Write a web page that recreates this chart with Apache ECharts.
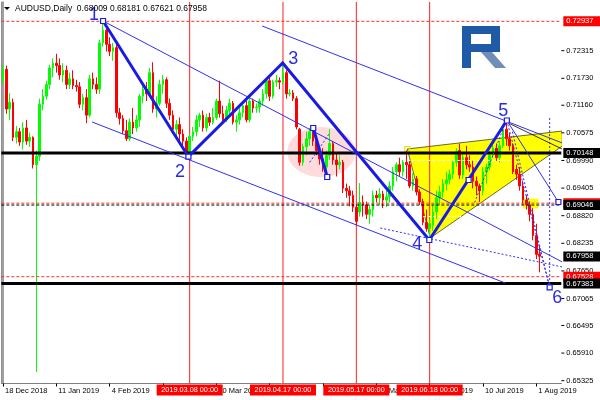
<!DOCTYPE html>
<html><head><meta charset="utf-8">
<script src="https://cdn.jsdelivr.net/npm/echarts@6/dist/echarts.min.js"></script>
<style>html,body{margin:0;padding:0;background:#fff}#c{width:600px;height:400px}</style>
</head><body><div id="c"></div>
<script>
const dates = ['2018.12.18','2018.12.19','2018.12.20','2018.12.21','2018.12.24','2018.12.26','2018.12.27','2018.12.28','2018.12.31',
'2019.01.02','2019.01.03','2019.01.04','2019.01.07','2019.01.08','2019.01.09','2019.01.10','2019.01.11','2019.01.14','2019.01.15','2019.01.16','2019.01.17','2019.01.18','2019.01.21','2019.01.22','2019.01.23','2019.01.24','2019.01.25','2019.01.28','2019.01.29','2019.01.30','2019.01.31',
'2019.02.01','2019.02.04','2019.02.05','2019.02.06','2019.02.07','2019.02.08','2019.02.11','2019.02.12','2019.02.13','2019.02.14','2019.02.15','2019.02.18','2019.02.19','2019.02.20','2019.02.21','2019.02.22','2019.02.25','2019.02.26','2019.02.27','2019.02.28',
'2019.03.01','2019.03.04','2019.03.05','2019.03.06','2019.03.07','2019.03.08','2019.03.11','2019.03.12','2019.03.13','2019.03.14','2019.03.15','2019.03.18','2019.03.19','2019.03.20','2019.03.21','2019.03.22','2019.03.25','2019.03.26','2019.03.27','2019.03.28','2019.03.29',
'2019.04.01','2019.04.02','2019.04.03','2019.04.04','2019.04.05','2019.04.08','2019.04.09','2019.04.10','2019.04.11','2019.04.12','2019.04.15','2019.04.16','2019.04.17','2019.04.18','2019.04.19','2019.04.22','2019.04.23','2019.04.24','2019.04.25','2019.04.26','2019.04.29','2019.04.30',
'2019.05.01','2019.05.02','2019.05.03','2019.05.06','2019.05.07','2019.05.08','2019.05.09','2019.05.10','2019.05.13','2019.05.14','2019.05.15','2019.05.16','2019.05.17','2019.05.20','2019.05.21','2019.05.22','2019.05.23','2019.05.24','2019.05.27','2019.05.28','2019.05.29','2019.05.30','2019.05.31',
'2019.06.03','2019.06.04','2019.06.05','2019.06.06','2019.06.07','2019.06.10','2019.06.11','2019.06.12','2019.06.13','2019.06.14','2019.06.17','2019.06.18','2019.06.19','2019.06.20','2019.06.21','2019.06.24','2019.06.25','2019.06.26','2019.06.27','2019.06.28',
'2019.07.01','2019.07.02','2019.07.03','2019.07.04','2019.07.05','2019.07.08','2019.07.09','2019.07.10','2019.07.11','2019.07.12','2019.07.15','2019.07.16','2019.07.17','2019.07.18','2019.07.19','2019.07.22','2019.07.23','2019.07.24','2019.07.25','2019.07.26','2019.07.29','2019.07.30','2019.07.31',
'2019.08.01','2019.08.02','2019.08.05','2019.08.06','2019.08.07','2019.08.08','2019.08.09','2019.08.12'];

// [open, close, low, high]
const candles = [
[.7168,.7192,.7160,.7202],[.7192,.7108,.7098,.7200],[.7108,.7122,.7085,.7142],[.7122,.7048,.7040,.7130],[.7048,.7060,.7035,.7072],
[.7060,.7038,.7030,.7068],[.7038,.7068,.7022,.7080],[.7068,.7040,.7032,.7085],[.7040,.7048,.7028,.7058],[.7048,.6990,.6982,.7050],
[.6990,.7008,.6551,.7020],[.7008,.7118,.6998,.7130],[.7118,.7135,.7105,.7150],[.7135,.7160,.7128,.7168],[.7160,.7195,.7150,.7202],
[.7195,.7205,.7175,.7215],[.7205,.7200,.7185,.7225],[.7200,.7180,.7170,.7215],[.7180,.7190,.7165,.7205],[.7190,.7160,.7150,.7200],
[.7160,.7172,.7150,.7185],[.7172,.7158,.7150,.7190],[.7158,.7155,.7145,.7170],[.7155,.7118,.7110,.7165],[.7118,.7132,.7105,.7140],
[.7132,.7095,.7078,.7150],[.7095,.7172,.7090,.7180],[.7172,.7160,.7150,.7185],[.7160,.7150,.7140,.7175],[.7150,.7248,.7140,.7255],
[.7248,.7275,.7240,.7294],[.7275,.7245,.7230,.7282],[.7245,.7230,.7220,.7260],[.7230,.7238,.7210,.7248],[.7238,.7100,.7090,.7245],
[.7100,.7088,.7075,.7110],[.7088,.7062,.7055,.7095],[.7062,.7045,.7040,.7085],[.7045,.7080,.7040,.7088],[.7080,.7068,.7055,.7110],
[.7068,.7085,.7060,.7095],[.7085,.7135,.7070,.7140],[.7135,.7150,.7120,.7158],[.7150,.7140,.7125,.7165],[.7140,.7185,.7135,.7195],
[.7185,.7108,.7100,.7207],[.7108,.7120,.7090,.7135],[.7120,.7160,.7115,.7170],[.7160,.7170,.7140,.7180],[.7170,.7120,.7110,.7175],
[.7120,.7095,.7085,.7130],[.7095,.7065,.7055,.7105],[.7065,.7075,.7050,.7085],[.7075,.7055,.7040,.7090],[.7055,.7040,.7030,.7065],
[.7040,.7015,.7008,.7048],[.7015,.7050,.7003,.7055],[.7050,.7060,.7040,.7070],[.7060,.7085,.7050,.7095],[.7085,.7095,.7070,.7100],
[.7095,.7068,.7060,.7105],[.7068,.7090,.7060,.7098],[.7090,.7080,.7072,.7100],[.7080,.7090,.7075,.7110],[.7090,.7125,.7085,.7130],
[.7125,.7098,.7090,.7168],[.7098,.7085,.7075,.7115],[.7085,.7105,.7080,.7115],[.7105,.7120,.7095,.7130],[.7120,.7080,.7075,.7125],
[.7080,.7085,.7060,.7095],[.7085,.7100,.7075,.7110],[.7100,.7115,.7090,.7125],[.7115,.7085,.7080,.7125],[.7085,.7125,.7080,.7130],
[.7125,.7110,.7100,.7130],[.7110,.7112,.7100,.7120],[.7112,.7125,.7100,.7130],[.7125,.7140,.7115,.7150],[.7140,.7168,.7130,.7175],
[.7168,.7135,.7125,.7178],[.7135,.7165,.7130,.7170],[.7165,.7168,.7155,.7180],[.7168,.7165,.7150,.7175],[.7165,.7185,.7160,.7206],
[.7185,.7140,.7130,.7190],[.7140,.7142,.7135,.7150],[.7142,.7130,.7125,.7148],[.7130,.7070,.7065,.7135],[.7065,.6995,.6988,.7068],
[.6995,.7028,.6988,.7035],[.7028,.7045,.7010,.7060],[.7045,.7060,.7030,.7068],[.7060,.7040,.7030,.7068],[.7040,.7020,.7010,.7050],
[.7020,.7002,.6990,.7030],[.7002,.6985,.6975,.7025],[.6985,.7010,.6964,.7020],[.7010,.7035,.7000,.7065],[.7035,.7000,.6990,.7040],
[.7000,.6990,.6965,.7015],[.6990,.6995,.6980,.7010],[.6995,.6940,.6930,.7000],[.6940,.6935,.6920,.6950],[.6935,.6925,.6902,.6945],
[.6925,.6900,.6890,.6935],[.6900,.6870,.6862,.6905],[.6890,.6910,.6880,.6951],[.6910,.6905,.6880,.6925],[.6905,.6885,.6875,.6912],
[.6885,.6895,.6865,.6905],[.6895,.6925,.6880,.6935],[.6925,.6920,.6910,.6935],[.6920,.6928,.6905,.6940],[.6928,.6915,.6898,.6935],
[.6915,.6922,.6900,.6935],[.6922,.6945,.6910,.6955],[.6945,.6975,.6935,.6985],[.6975,.6990,.6955,.6995],[.6990,.6975,.6965,.7005],
[.6975,.6995,.6965,.7000],[.6995,.6990,.6960,.7020],[.6990,.6945,.6940,.6998],[.6945,.6960,.6935,.6972],[.6960,.6932,.6925,.6966],
[.6932,.6912,.6905,.6938],[.6912,.6868,.6862,.6918],[.6868,.6855,.6848,.6895],[.6855,.6865,.6832,.6875],[.6862,.6890,.6850,.6905],
[.6890,.6920,.6875,.6935],[.6920,.6932,.6905,.6945],[.6932,.6950,.6920,.6960],[.6950,.6958,.6935,.6975],[.6958,.6970,.6948,.6980],
[.6970,.6995,.6960,.7000],[.6995,.7018,.6985,.7025],[.7020,.6968,.6960,.7035],[.6968,.7005,.6960,.7012],[.7005,.6990,.6980,.7030],
[.6990,.6985,.6975,.7010],[.6985,.6955,.6940,.7000],[.6955,.6945,.6925,.6965],[.6945,.6935,.6911,.6950],[.6935,.6975,.6925,.6985],
[.6975,.6985,.6950,.6992],[.6985,.7010,.6978,.7020],[.7010,.7025,.7005,.7045],[.7025,.7005,.6998,.7035],[.7005,.7030,.6995,.7040],
[.7030,.7065,.7025,.7075],[.7065,.7045,.7030,.7082],[.7045,.7030,.7020,.7058],[.7030,.6975,.6970,.7035],[.6980,.6970,.6958,.6990],
[.6970,.6945,.6935,.6985],[.6945,.6915,.6905,.6955],[.6915,.6905,.6895,.6925],[.6905,.6885,.6870,.6912],[.6885,.6840,.6830,.6898],
[.6840,.6800,.6790,.6865],[.6801,.6796,.6762,.6818]
];

const header = ['AUDUSD,Daily','0.68009','0.68181','0.67621','0.67958'];
const xTickIdx = [0,16,32,48,64,80,96,112,128,144,160];
const xTickText = ['18 Dec 2018','11 Jan 2019','4 Feb 2019','26 Feb 2019','20 Mar 2019','11 Apr 2019','3 May 2019','27 May 2019','18 Jun 2019','10 Jul 2019','1 Aug 2019'];
const yTickValues = [0.72315,0.71730,0.71160,0.70575,0.69990,0.69405,0.68820,0.68235,0.67650,0.67065,0.66495,0.65910,0.65325];
const redLineIdx = [56,84,106,128];
const redLineText = ['2019.03.08 00:00','2019.04.17 00:00','2019.05.17 00:00','2019.06.18 00:00'];
const priceTags = [0.72937,0.70148,0.69085,0.69046,0.67958,0.67528,0.67383];
const solidLevels = [0.70148,0.67383];
const redDashLevels = [0.72937,0.69085,0.67528];
const blackDashLevels = [0.69046];
// wave points [bar index, price]
const wavePoints = [[30.02,0.72944],[55.63,0.70070],[83.91,0.72054],[127.89,0.68305],[151.16,0.70837]];
const subWave = [[93.07,0.70678],[97.27,0.69640]];
const markerPoints = [[30.02,0.72944],[55.63,0.70070],[127.89,0.68305],[151.16,0.70837],[139.69,0.69576],[93.07,0.70678],[97.27,0.69640],[166.62,0.69110],[164.0,0.67303]];
const waveLabels = ['1','2','3','4','5','6'];
const waveLabelPos = [[27.3,0.73071],[53.14,0.69746],[87.06,0.72139],[124.29,0.68221],[150.1,0.71038],[166.3,0.67077]];
const channelLines = [
  [[30.02,0.72944],[167.8,0.67839]],
  [[26.72,0.70805],[150.71,0.67394]],
  [[77.75,0.72838],[167.8,0.70360]],
  [[151.16,0.70837],[166.62,0.69110]]
];
const dashLines = [
  [[113.18,0.68559],[167.8,0.67733]],
  [[151.16,0.70837],[164.0,0.67303]],
  [[152.8,0.7060],[164.0,0.67303]],
  [[164.0,0.70888],[164.0,0.67303]],
  [[92.0,0.69950],[97.9,0.70560]],
  [[141.5,0.69100],[150.0,0.70650]]
];
const blackThinLines = [
  [[152.0,0.70770],[167.8,0.70230]]
];
const whiteDashLines = [
  [[121.3,0.69990],[152.0,0.69990]],
  [[118.5,0.68800],[138.0,0.68800]]
];
const triangle = [[121.29,0.70233],[167.8,0.70614],[167.8,0.70296],[128.19,0.68348]];
const yellowBox = [[156.0,0.69180],[160.6,0.68970]];
const ellipse = {center:[95.47,0.70167], rx:10.2, ry:0.0053};

const yMin = 0.652656, yMax = 0.733466;
const FONT = '"Liberation Sans", Arial, sans-serif';
const BLUE = '#1a1ae6';

const chart = echarts.init(document.getElementById('c'), null, {width:600,height:400});

function lineGroup(segs, style) {
  return (params, api) => ({type:'group', children: segs.map(s => {
    const a = api.coord(s[0]), b = api.coord(s[1]);
    return {type:'line', shape:{x1:a[0],y1:a[1],x2:b[0],y2:b[1]}, style:Object.assign({fill:null}, style)};
  })});
}
function custom(name, z, renderItem, clip) {
  return {type:'custom', name, xAxisIndex:1, yAxisIndex:0, z, silent:true, clip: !!clip,
    data:[[80,0.70]], renderItem};
}

const series = [
  custom('triangle', 1, (p, api) => {
    const a = api.coord(yellowBox[0]), b = api.coord(yellowBox[1]);
    const v = api.coord(triangle[0]);
    return {type:'group', children:[
      {type:'polygon', shape:{points: triangle.map(q=>api.coord(q))}, style:{fill:'#ffff00', stroke:'#000', lineWidth:0.6}},
      {type:'rect', shape:{x:a[0], y:a[1], width:b[0]-a[0], height:b[1]-a[1]}, style:{fill:'#ffff00'}},
      {type:'rect', shape:{x:v[0]-2.5, y:v[1]-2.5, width:5, height:5}, style:{fill:null, stroke:'#e8e800', lineWidth:1.2}}
    ]};
  }, true),
  custom('ellipse', 1, (p, api) => {
    const c = api.coord(ellipse.center);
    const s = api.size([ellipse.rx, ellipse.ry]);
    return {type:'ellipse', shape:{cx:c[0], cy:c[1], rx:s[0], ry:s[1]}, style:{fill:'rgba(255,190,190,0.55)'}};
  }, true),
  custom('redVertical', 2, (p, api) => {
    const ch = [];
    redLineIdx.forEach(i => {
      const a = api.coord([i, yMax]), b = api.coord([i, yMin]);
      ch.push({type:'line', shape:{x1:a[0],y1:a[1],x2:b[0],y2:b[1]}, style:{stroke:'#ff2020', lineWidth:1}});
    });
    return {type:'group', children:ch};
  }),
  {
    type:'candlestick', name:'AUDUSD', xAxisIndex:0, yAxisIndex:0, z:3, data:candles, barWidth:2,
    itemStyle:{color:'#00ff00', color0:'#ff0000', borderColor:'#00ff00', borderColor0:'#ff0000', borderWidth:1},
    silent:true, animation:false
  },
  custom('whiteDash', 4, lineGroup(whiteDashLines, {stroke:'#ffffff', lineWidth:1, lineDash:[3,2]}), true),
  custom('blackThin', 4, lineGroup(blackThinLines, {stroke:'#000', lineWidth:0.8}), true),
  custom('levels', 4, (p, api) => {
    const ch = [];
    const L = api.coord([-0.5, 0])[0], R = api.coord([167.5, 0])[0];
    redDashLevels.forEach(v => { const y = api.coord([0,v])[1];
      ch.push({type:'line', shape:{x1:L,y1:y,x2:R,y2:y}, style:{stroke:'#ff3030', lineWidth:1, lineDash:[3,2]}}); });
    blackDashLevels.forEach(v => { const y = api.coord([0,v])[1];
      ch.push({type:'line', shape:{x1:L,y1:y,x2:R,y2:y}, style:{stroke:'#000', lineWidth:1, lineDash:[3,2]}}); });
    solidLevels.forEach(v => { const y = api.coord([0,v])[1];
      ch.push({type:'line', shape:{x1:L,y1:y,x2:R,y2:y}, style:{stroke:'#000', lineWidth:3}}); });
    return {type:'group', children:ch};
  }),
  custom('channels', 5, lineGroup(channelLines, {stroke:'#3030f0', lineWidth:1}), true),
  custom('dashes', 5, lineGroup(dashLines, {stroke:'#3030f0', lineWidth:1, lineDash:[2,2]}), true),
  custom('wave', 6, (p, api) => ({type:'polyline', shape:{points: wavePoints.map(q=>api.coord(q))},
    style:{stroke:BLUE, lineWidth:3, fill:null}})),
  custom('subwave', 6, (p, api) => ({type:'polyline', shape:{points: subWave.map(q=>api.coord(q))},
    style:{stroke:BLUE, lineWidth:3, fill:null}})),
  custom('markers', 7, (p, api) => ({type:'group', children: markerPoints.map(q => { const c = api.coord(q);
    return {type:'rect', shape:{x:c[0]-2.5, y:c[1]-2.5, width:5, height:5}, style:{fill:'#fff', stroke:BLUE, lineWidth:1.2}}; })})),
  custom('waveLabels', 8, (p, api) => ({type:'group', children: waveLabelPos.map((q,k) => { const c = api.coord(q);
    return {type:'text', x:c[0], y:c[1], style:{text:waveLabels[k], fill:'#2a2ae0', font:'18px '+FONT, align:'center', verticalAlign:'middle', textAlign:'center', textVerticalAlign:'middle'}}; })})),
  custom('yTicks', 9, (p, api) => {
    const R = api.coord([167.5, 0])[0];
    const ch = [];
    yTickValues.forEach(v => { const y = api.coord([0,v])[1];
      ch.push({type:'line', shape:{x1:R,y1:y,x2:R+3,y2:y}, style:{stroke:'#000', lineWidth:1}});
      ch.push({type:'text', x:R+5, y:y, style:{text:v.toFixed(5), fill:'#000', font:'7.5px '+FONT, align:'left', verticalAlign:'middle', textAlign:'left', textVerticalAlign:'middle'}});
    });
    return {type:'group', children:ch};
  }),
  custom('priceTags', 10, (p, api) => {
    const R = api.coord([167.5, 0])[0];
    const ch = [];
    const cols = ['#ff0000','#000000','#ff0000','#000000','#000000','#ff0000','#000000'];
    priceTags.forEach((v,k) => { const y = api.coord([0,v])[1];
      ch.push({type:'rect', shape:{x:R+2, y:y-5, width:37, height:10}, style:{fill:cols[k]}});
      ch.push({type:'text', x:R+5, y:y, style:{text:v.toFixed(5), fill:'#fff', font:'7.5px '+FONT, align:'left', verticalAlign:'middle', textAlign:'left', textVerticalAlign:'middle'}});
    });
    return {type:'group', children:ch};
  }),
  custom('redDates', 11, (p, api) => {
    const ch = [];
    redLineIdx.forEach((i,k) => { const c = api.coord([i, yMin]);
      ch.push({type:'rect', shape:{x:c[0]-33, y:c[1]+1, width:66, height:11}, style:{fill:'#ff0000'}});
      ch.push({type:'text', x:c[0], y:c[1]+6.5, style:{text:redLineText[k], fill:'#fff', font:'7.3px '+FONT, align:'center', verticalAlign:'middle', textAlign:'center', textVerticalAlign:'middle'}});
    });
    return {type:'group', children:ch};
  })
];

chart.setOption({
  animation:false,
  backgroundColor:'#ffffff',
  grid:{left:1.33, top:2, width:560, height:381.5, containLabel:false},
  xAxis:[
    {type:'category', data:dates, boundaryGap:true, gridIndex:0,
     axisLine:{show:true, lineStyle:{color:'#808080', width:1}},
     axisTick:{show:true, alignWithLabel:true, length:3, interval:(i)=>xTickIdx.includes(i), lineStyle:{color:'#000'}},
     axisLabel:{show:true, interval:(i)=>xTickIdx.includes(i), formatter:(v,i)=>xTickText[xTickIdx.indexOf(i)] || '',
       align:'left', margin:3.5, fontSize:7.5, fontFamily:FONT, color:'#000', padding:[0,0,0,2]},
     splitLine:{show:false}},
    {type:'value', min:-0.5, max:167.5, show:false, gridIndex:0}
  ],
  yAxis:[
    {type:'value', min:yMin, max:yMax, position:'right', scale:true,
     axisLine:{show:true, lineStyle:{color:'#808080', width:1.5}}, axisTick:{show:false}, axisLabel:{show:false}, splitLine:{show:false}},
    {type:'value', min:yMin, max:yMax, position:'left',
     axisLine:{show:true, lineStyle:{color:'#909090', width:1}}, axisTick:{show:false}, axisLabel:{show:false}, splitLine:{show:false}}
  ],
  graphic:[
    {type:'polygon', shape:{points:[[4,7],[10,7],[7,10]]}, style:{fill:'#000'}, z:20},
    {type:'text', left:15, top:4, style:{text: header[0] + '  ' + header.slice(1).join(' '), font:'8.5px '+FONT, fill:'#000'}, z:20},
    {type:'group', left:462, top:26, z:20, children:[
      {type:'rect', shape:{x:0,y:0,width:9,height:42}, style:{fill:'#1f5aa6'}},
      {type:'polygon', shape:{points:[[9,0],[38,0],[38,26],[9,26],[9,18],[29,18],[29,8],[9,8]]}, style:{fill:'#1f5aa6'}},
      {type:'polygon', shape:{points:[[19,26],[30,26],[44,42],[33,42]]}, style:{fill:'#6f8fb8'}}
    ]}
  ],
  series
});
</script></body></html>
